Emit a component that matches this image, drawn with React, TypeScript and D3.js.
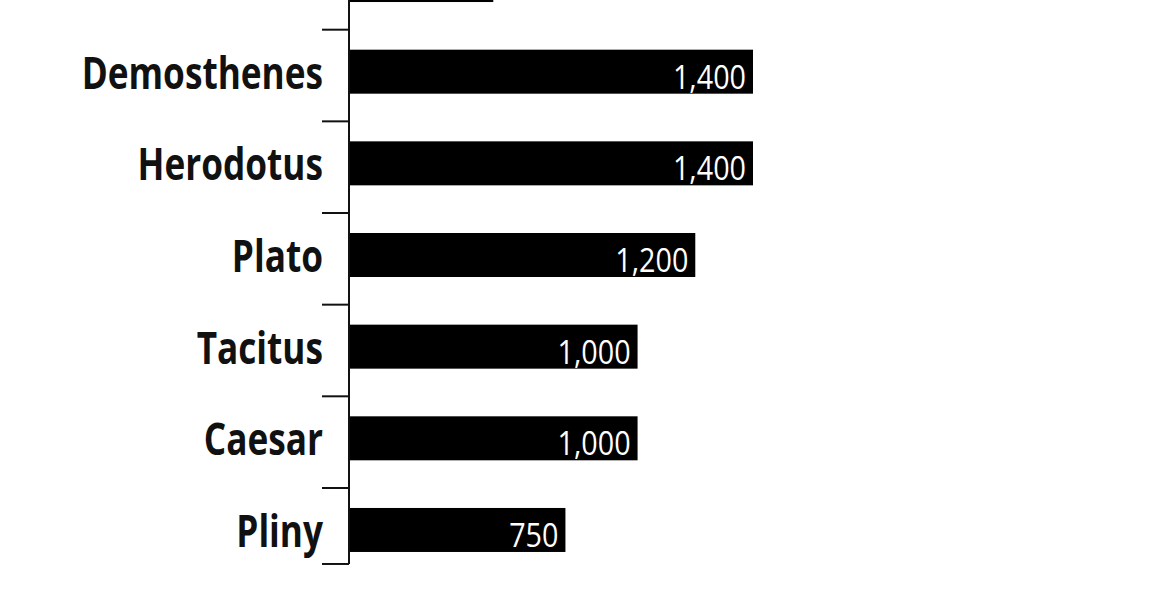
import React from 'react';
import * as d3 from 'd3';

const authors = ['Cicero', 'Demosthenes', 'Herodotus', 'Plato', 'Tacitus', 'Caesar', 'Pliny'];
const values = [500, 1400, 1400, 1200, 1000, 1000, 750];

const width = 1170;
const height = 600;

export default function App() {
  const x = d3.scaleLinear().domain([0, 1400]).range([349, 753]);

  const y = d3.scaleBand<string>()
    .domain(authors)
    .range([-65.8, 575.8])
    .paddingInner(0.52)
    .paddingOuter(0.26);

  const bw = y.bandwidth();
  const fmt = d3.format(',');
  const axisBottom = (y(authors[authors.length - 1]) ?? 0) + bw + 12;

  return (
    <svg
      width={width}
      height={height}
      style={{ position: 'absolute', top: 0, left: 0, background: '#fff' }}
    >
      {/* bars */}
      {authors.map((a, i) => (
        <g key={a}>
          <rect x={x(0)} y={y(a)} width={x(values[i]) - x(0)} height={bw} fill="#000" />
          <text
            transform={`translate(${x(values[i]) - 7},${(y(a) ?? 0) + 39}) scale(0.87,1)`}
            textAnchor="end"
            fill="#fff"
            style={{ fontFamily: '"Open Sans", sans-serif', fontSize: 33 }}
          >
            {fmt(values[i])}
          </text>
          <text
            transform={`translate(323,${(y(a) ?? 0) + 39}) scale(0.8,1)`}
            textAnchor="end"
            fill="#111"
            style={{ fontFamily: '"Open Sans", sans-serif', fontSize: 44, fontWeight: 700 }}
          >
            {a}
          </text>
          <line x1={322} x2={x(0)} y1={(y(a) ?? 0) - 20} y2={(y(a) ?? 0) - 20} stroke="#111" strokeWidth={2} />
        </g>
      ))}

      {/* axis */}
      <line x1={x(0)} x2={x(0)} y1={-100} y2={axisBottom} stroke="#111" strokeWidth={2} />
      <line x1={322} x2={x(0)} y1={axisBottom} y2={axisBottom} stroke="#111" strokeWidth={2} />
    </svg>
  );
}
